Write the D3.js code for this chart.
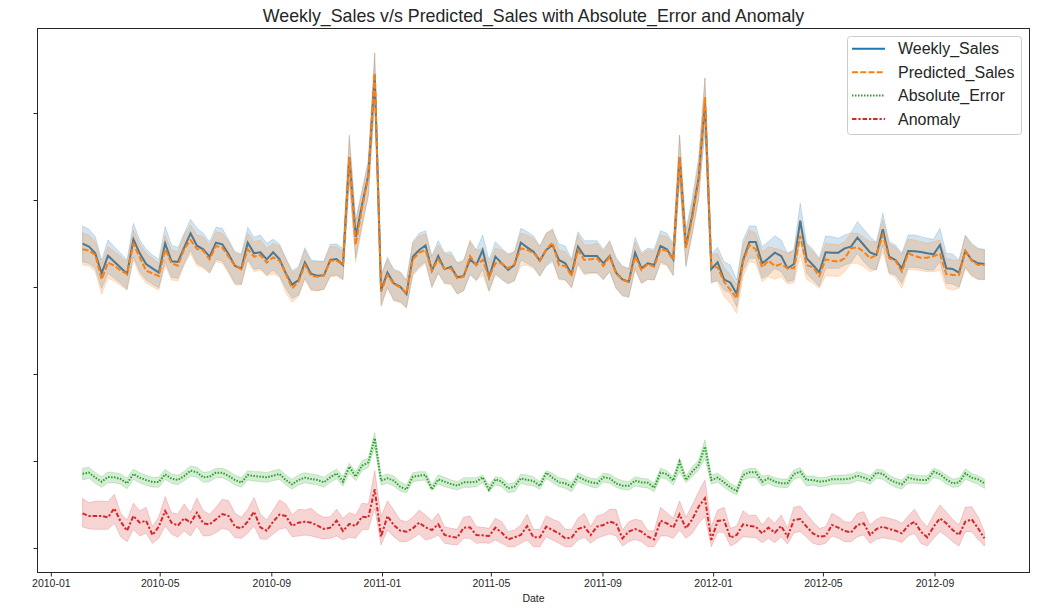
<!DOCTYPE html>
<html>
<head>
<meta charset="utf-8">
<script src="https://cdn.jsdelivr.net/npm/d3@7"></script>
<style>
  body { margin: 0; background: #fff; }
  text { font-family: "Liberation Sans", Arial, sans-serif; fill: #262626; }
  .domain { display: none; }
  .tick line { stroke: #262626; }
  .tick text { font-size: 10.5px; fill: #262626; }
</style>
</head>
<body>
<div id="chart"></div>
<script>
// the y axis has no printed labels, so values are in units read off the plot: 261 units per tick
var yTicks = [0, 261, 522, 783, 1044, 1305];
var dates = d3.utcDay.range(new Date(Date.UTC(2010, 1, 5)), new Date(Date.UTC(2012, 9, 27)), 7);

var weeklySales = [913,904,884,824,877,859,841,822,926,884,852,839,826,914,860,858,902,944,907,896,874,916,911,881,846,839,916,884,887,866,887,867,824,790,804,857,822,817,818,864,867,849,
  1173,933,1029,1119,1419,
  774,826,794,784,762,874,894,908,832,876,836,844,812,816,866,849,894,812,874,854,834,849,916,902,889,862,894,909,864,854,822,904,876,876,876,854,876,826,806,799,886,839,854,849,906,896,866,
  1173,904,999,1110,1335,
  837,857,806,796,762,864,918,918,854,869,886,876,839,852,982,869,849,827,887,886,886,899,904,931,909,887,879,956,874,864,839,891,890,888,884,881,909,839,837,826,891,864,854,852];
var weeklyHi = [966,956,934,864,924,904,884,864,974,924,896,879,866,964,909,901,944,986,959,944,919,962,959,924,889,882,962,932,939,914,926,912,869,832,844,901,864,861,861,911,912,899,
  1239,984,1074,1164,1485,
  819,872,836,829,804,919,944,952,876,922,886,889,856,864,919,894,939,864,919,899,882,889,959,949,936,906,944,954,912,906,866,949,922,922,922,896,922,872,846,839,932,886,899,896,952,944,914,
  1239,954,1050,1170,1410,
  882,902,859,849,804,924,966,966,904,919,937,924,884,894,1034,914,896,869,936,934,929,939,946,979,956,934,916,1004,919,909,884,939,939,934,929,926,959,884,882,864,939,914,899,896];
var weeklyLo = [859,854,839,779,824,809,794,776,874,829,804,791,781,859,812,809,854,894,854,844,826,866,861,829,794,791,866,836,839,819,834,816,779,749,759,809,776,772,776,816,819,806,
  1104,870,969,1059,1344,
  729,782,744,739,722,822,844,859,782,826,794,794,762,772,819,802,836,772,824,806,792,802,864,854,844,816,846,859,809,804,782,854,824,826,826,806,829,779,756,752,839,794,806,804,859,849,819,
  1104,844,945,1050,1250,
  794,804,774,764,724,834,869,869,809,819,839,829,799,804,934,824,804,784,839,839,839,849,856,884,859,839,834,909,826,819,794,842,842,839,834,834,859,794,792,782,842,819,806,806];

var predictedSales = [896,892,879,806,856,847,832,822,912,872,832,824,816,896,854,847,897,924,897,892,866,906,901,874,846,836,896,874,879,856,872,862,822,779,799,849,816,814,818,862,862,849,
  1173,909,1020,1116,1425,
  769,819,792,782,764,866,886,894,832,866,837,839,809,814,876,849,864,812,854,854,839,852,899,894,886,862,896,916,849,846,816,894,864,866,869,846,874,824,804,798,874,834,852,844,896,892,864,
  1173,900,990,1105,1353,
  844,842,799,774,749,859,909,896,842,862,846,852,839,839,936,849,842,816,866,862,859,869,899,902,889,869,879,939,869,862,829,884,876,871,871,876,882,822,819,819,891,862,849,849];
var predictedHi = [946,939,919,854,904,889,874,859,954,912,884,869,854,939,894,889,939,969,939,934,909,949,944,919,884,879,944,919,924,899,914,906,869,826,839,894,859,859,859,904,904,889,
  1230,978,1068,1158,1485,
  816,866,832,826,802,914,936,942,872,909,882,879,854,859,924,892,899,854,899,894,879,889,944,939,929,904,944,959,894,889,862,939,909,909,914,889,919,864,844,836,919,879,894,889,939,934,909,
  1239,945,1035,1155,1410,
  879,884,842,819,789,909,954,944,889,904,899,894,884,894,984,909,889,864,914,912,909,919,944,944,932,919,919,984,914,902,879,926,924,919,914,919,924,869,864,862,936,909,896,894];
var predictedLo = [849,847,829,762,809,801,787,774,864,819,794,784,774,849,804,801,849,884,847,839,824,859,854,824,789,789,862,829,834,816,822,814,766,737,754,806,772,772,776,814,816,804,
  1104,858,960,1056,1344,
  724,779,742,736,719,816,839,854,782,824,794,789,762,772,824,804,819,769,819,806,794,802,846,849,839,816,849,866,804,804,779,849,819,824,824,804,829,779,759,754,834,794,806,804,852,849,816,
  1110,848,940,1045,1280,
  799,799,754,734,704,814,859,854,799,814,806,814,792,796,879,806,794,779,816,816,814,829,854,854,844,829,836,889,822,812,779,836,834,832,829,829,834,779,774,779,839,814,806,804];

var absoluteError = [223,226,211,199,213,212,207,194,222,211,204,198,198,221,208,204,216,232,227,212,214,226,226,216,204,196,219,216,214,212,217,222,204,191,204,211,207,204,197,212,224,199,244,214,247,257,329,
  202,
  209,202,184,176,214,217,219,176,206,199,192,187,197,197,199,212,174,206,199,179,184,209,204,201,186,226,211,197,194,184,214,204,197,194,212,209,194,187,187,202,197,196,181,226,222,202,259,204,229,249,
  304,204,211,197,182,171,219,227,227,199,209,199,194,194,222,229,204,204,199,201,206,206,206,209,217,211,204,226,222,206,197,191,211,206,204,204,229,221,206,194,197,224,211,206,194];
var absoluteErrorHi = [239,242,226,214,228,226,222,209,236,226,218,212,212,236,222,218,230,246,242,227,229,239,239,231,218,211,232,229,229,226,232,236,219,206,219,226,222,219,212,226,236,214,254,229,262,269,346,
  216,
  222,216,199,189,226,229,229,189,219,212,204,199,211,211,211,219,189,214,211,192,196,221,219,214,199,232,224,211,207,196,226,217,209,207,224,222,209,202,199,214,209,207,194,239,232,214,269,216,244,262,
  324,219,224,211,194,184,232,239,239,216,219,211,207,207,234,241,216,216,211,212,217,219,219,221,229,224,216,236,234,219,209,204,222,219,217,217,239,232,219,207,209,237,224,217,206];
var absoluteErrorLo = [204,209,194,182,196,196,191,178,206,196,188,183,182,206,194,190,202,216,212,197,199,211,211,202,189,182,204,201,199,197,202,206,189,177,189,196,192,189,182,197,208,186,224,202,232,242,304,
  189,
  194,186,171,166,199,202,204,172,192,184,179,174,182,182,184,196,169,189,184,166,169,194,189,186,176,209,196,184,179,169,199,191,184,180,197,194,182,176,174,186,182,180,169,211,206,189,229,196,214,234,
  269,192,197,182,169,159,204,211,211,186,194,184,182,181,206,212,186,189,184,186,191,192,192,194,202,199,191,209,206,192,182,177,194,194,192,192,211,206,192,182,184,206,199,191,179];

var anomaly = [104,96,96,96,92,119,79,52,96,76,82,39,64,111,76,67,89,76,106,74,71,86,102,96,64,59,79,109,62,52,79,100,96,66,76,79,76,67,57,61,82,51,72,66,94,92,176,
  34,
  96,69,52,49,59,76,62,54,71,39,34,31,61,62,39,38,36,61,46,26,32,39,66,32,32,64,54,44,29,31,57,64,39,64,69,79,74,29,49,57,49,34,26,82,74,61,101,59,86,124,
  149,24,81,84,31,39,71,66,64,44,61,46,66,34,84,87,64,44,34,36,69,61,51,47,69,74,39,57,64,57,52,44,67,79,49,32,64,89,74,54,39,79,86,59,29];
var anomalyHi = [149,136,140,141,139,161,104,84,134,111,122,64,94,154,106,102,132,106,150,112,101,122,146,142,104,92,116,151,102,84,114,144,132,99,116,114,119,102,92,94,116,89,106,99,134,132,232,
  94,
  141,114,84,79,92,114,99,82,104,64,59,56,92,96,64,62,59,89,79,49,54,69,101,56,56,96,86,79,56,56,89,104,64,96,101,116,116,54,79,86,82,52,51,122,106,89,141,92,129,169,
  204,64,114,122,59,66,112,97,99,69,92,74,99,59,122,126,102,79,59,64,104,94,79,77,104,109,69,86,94,89,84,74,96,116,84,64,99,129,109,86,69,122,124,94,49];
var anomalyLo = [64,57,56,56,56,74,34,19,56,36,44,14,29,66,42,32,51,36,66,36,37,46,59,54,31,29,44,66,27,26,42,56,61,34,36,39,36,31,27,29,36,24,32,29,54,56,119,
  9,
  54,34,19,19,29,42,24,29,39,14,11,9,29,29,14,16,14,24,14,4,4,14,24,4,4,34,24,14,4,4,24,32,14,29,36,42,36,6,19,26,19,4,4,36,36,29,54,29,44,74,
  94,4,47,47,6,16,34,32,31,16,29,16,34,12,46,49,32,14,9,14,36,29,19,19,34,39,14,26,31,27,24,16,36,44,14,6,29,49,36,19,6,49,49,26,6];

var seriesNames = ["Weekly_Sales", "Predicted_Sales", "Absolute_Error", "Anomaly"];
var seriesColors = ["#1f77b4", "#ff7f0e", "#2ca02c", "#d62728"];
var seriesDashes = ["none", "6,2.25", "1.5,1.5", "4.5,1.9,2.25,1.9"];
var seriesLines = [weeklySales, predictedSales, absoluteError, anomaly];
var seriesHi = [weeklyHi, predictedHi, absoluteErrorHi, anomalyHi];
var seriesLo = [weeklyLo, predictedLo, absoluteErrorLo, anomalyLo];

var svgWidth = 1037;
var svgHeight = 612;
var margin = { top: 28.5, right: 7.5, bottom: 39.5, left: 37.5 };
var width = svgWidth - margin.left - margin.right;
var height = svgHeight - margin.top - margin.bottom;

var svg = d3.select("#chart")
  .append("svg")
  .attr("width", svgWidth)
  .attr("height", svgHeight)
  .style("display", "block");

var chartGroup = svg.append("g")
  .attr("transform", `translate(${margin.left}, ${margin.top})`);

// 5% padding either side of the weekly dates
var first = dates[0].getTime();
var last = dates[dates.length - 1].getTime();
var pad = (last - first) * 0.05;
var xScale = d3.scaleUtc()
  .domain([new Date(first - pad), new Date(last + pad)])
  .range([0, width]);

var yScale = d3.scaleLinear()
  .domain([-73.5, 1558.5])
  .range([height, 0]);

var bottomAxis = d3.axisBottom(xScale)
  .ticks(d3.utcMonth.every(4))
  .tickFormat(d3.utcFormat("%Y-%m"))
  .tickSize(4)
  .tickPadding(3);

var leftAxis = d3.axisLeft(yScale)
  .tickValues(yTicks)
  .tickFormat("")
  .tickSize(4);

chartGroup.append("g")
  .attr("transform", `translate(0, ${height})`)
  .call(bottomAxis);

chartGroup.append("g")
  .call(leftAxis);

seriesNames.forEach(function(name, s) {
  var area = d3.area()
    .x(function(d, i) { return xScale(dates[i]); })
    .y0(function(d, i) { return yScale(seriesLo[s][i]); })
    .y1(function(d, i) { return yScale(seriesHi[s][i]); });

  var line = d3.line()
    .x(function(d, i) { return xScale(dates[i]); })
    .y(function(d) { return yScale(d); });

  chartGroup.append("path")
    .datum(seriesLines[s])
    .attr("d", area)
    .attr("fill", seriesColors[s])
    .attr("fill-opacity", 0.2)
    .attr("stroke", seriesColors[s])
    .attr("stroke-opacity", 0.2);

  chartGroup.append("path")
    .datum(seriesLines[s])
    .attr("d", line)
    .attr("fill", "none")
    .attr("stroke", seriesColors[s])
    .attr("stroke-width", 2)
    .attr("stroke-dasharray", seriesDashes[s]);
});

// frame
chartGroup.append("rect")
  .attr("width", width)
  .attr("height", height)
  .attr("fill", "none")
  .attr("stroke", "#262626")
  .attr("stroke-width", 1);

// legend
var legend = svg.append("g")
  .attr("transform", "translate(847.5, 36.5)");

legend.append("rect")
  .attr("width", 174)
  .attr("height", 98)
  .attr("rx", 3)
  .attr("fill", "#fff")
  .attr("fill-opacity", 0.8)
  .attr("stroke", "#ccc");

seriesNames.forEach(function(name, s) {
  var row = legend.append("g")
    .attr("transform", `translate(0, ${12.3 + s * 23.4})`);
  row.append("line")
    .attr("x1", 4.5)
    .attr("x2", 37.5)
    .attr("stroke", seriesColors[s])
    .attr("stroke-width", 2)
    .attr("stroke-dasharray", seriesDashes[s]);
  row.append("text")
    .attr("x", 50.5)
    .attr("dy", "0.35em")
    .style("font-size", "16px")
    .text(name);
});

// labels
svg.append("text")
  .attr("x", 533.5)
  .attr("y", 22)
  .attr("text-anchor", "middle")
  .style("font-size", "17.8px")
  .text("Weekly_Sales v/s Predicted_Sales with Absolute_Error and Anomaly");

svg.append("text")
  .attr("x", 533.5)
  .attr("y", 602)
  .attr("text-anchor", "middle")
  .style("font-size", "10.5px")
  .text("Date");
</script>
</body>
</html>
